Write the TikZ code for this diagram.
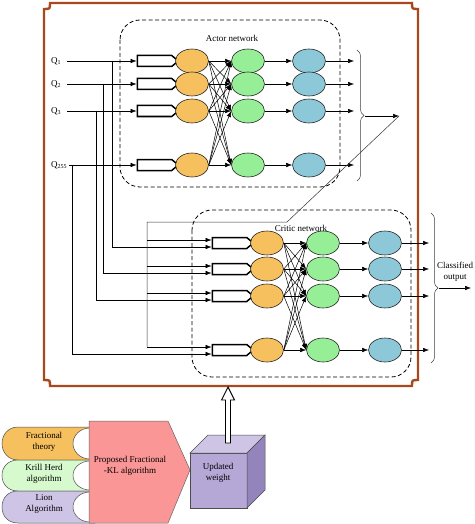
\documentclass[tikz,border=0pt]{standalone}
\usepackage{fontspec}
\setmainfont{Liberation Serif}
\usetikzlibrary{shapes.geometric,shapes.symbols,arrows.meta,decorations.pathreplacing}
\definecolor{brownf}{RGB}{168,72,28}
\definecolor{orangeN}{RGB}{247,192,95}
\definecolor{greenN}{RGB}{150,238,150}
\definecolor{blueN}{RGB}{140,200,215}
\definecolor{pinkN}{RGB}{250,150,150}
\definecolor{lavN}{RGB}{182,168,214}
\definecolor{lavL}{RGB}{206,196,230}
\definecolor{lavD}{RGB}{148,132,188}
\definecolor{greenL}{RGB}{214,250,205}
\begin{document}
\begin{tikzpicture}[x=1pt,y=-1pt,font=\fontsize{9}{11}\selectfont,
  neuron/.style={ellipse,draw=black!85,line width=0.6pt,minimum width=33pt,minimum height=24pt,inner sep=0pt},
  inbox/.style={signal,signal to=east,signal pointer angle=80,draw=black,line width=1.5pt,minimum width=41pt,minimum height=11pt,inner sep=0pt},
  arr/.style={-{Latex[length=6pt,width=4.5pt]},line width=0.5pt},
  dbox/.style={draw,dash pattern=on 4pt off 2.5pt,line width=0.8pt,rounded corners=20pt},
  lbl/.style={inner sep=1pt,align=center},
  itemshape/.style={draw=black!70,line width=0.5pt}]
\useasboundingbox (0,0) rectangle (474,524);
\fill[white] (0,0) rectangle (474,524);

% frame
\draw[brownf,line width=2.4pt] (50,3) -- (412,3) .. controls (412,9) .. (418,9) -- (418,380)
  .. controls (412,380) .. (412,386) -- (50,386) .. controls (50,380) .. (44,380) -- (44,9)
  .. controls (50,9) .. (50,3) -- cycle;

% dashed boxes
\draw[dbox] (120,20) rectangle (340,187);
\draw[dbox] (192,210) rectangle (411,377);
\node[lbl] (actlbl) at (232,38) {Actor network};
\node[lbl] (critlbl) at (301,228) {Critic network};

% actor nodes
\foreach \i/\y in {1/61,2/84,3/111,4/165}{
  \node[inbox] (ap\i) at (154.5,\y) {};
  \node[neuron,fill=orangeN] (ao\i) at (192,\y) {};
  \node[neuron,fill=greenN] (ag\i) at (248,\y) {};
  \node[neuron,fill=blueN] (ab\i) at (309,\y) {};
}
% critic nodes
\foreach \i/\y in {1/243,2/269,3/296,4/350}{
  \node[inbox] (cp\i) at (229.5,\y) {};
  \node[neuron,fill=orangeN] (co\i) at (267,\y) {};
  \node[neuron,fill=greenN] (cg\i) at (323,\y) {};
  \node[neuron,fill=blueN] (cb\i) at (385,\y) {};
}

% Q labels
\node[anchor=west,lbl] (q1) at (50,61) {Q\textsubscript{1}};
\node[anchor=west,lbl] (q2) at (50,84) {Q\textsubscript{2}};
\node[anchor=west,lbl] (q3) at (50,111) {Q\textsubscript{3}};
\node[anchor=west,lbl] (q4) at (50,165) {Q\textsubscript{255}};
\foreach \i in {1,2,3}{\draw[arr] ([xshift=5pt]q\i.east) -- (ap\i.west);}
\draw[arr] ([xshift=1pt]q4.east) -- (ap4.west);

% full connections
\foreach \i in {1,...,4}{\foreach \j in {1,...,4}{
  \draw[arr] (ao\i.east) -- (ag\j.west);
  \draw[arr] (co\i.east) -- (cg\j.west);
}}
\coordinate (aend) at (354,0);
\coordinate (cend) at (429,0);
\foreach \i in {1,...,4}{
  \draw[arr] (ag\i.east) -- (ab\i.west);
  \draw[arr] (ab\i.east) -- (ab\i.east -| aend);
  \draw[arr] (cg\i.east) -- (cb\i.west);
  \draw[arr] (cb\i.east) -- (cb\i.east -| cend);
}

% critic inputs
\foreach \i in {1,...,4}{
  \coordinate (cf\i) at ([yshift=3pt]cp\i.west);
  \coordinate (cq\i) at ([yshift=-4pt]cp\i.west);
}
\coordinate (b1) at (112,61);
\coordinate (b2) at (103,84);
\coordinate (b3) at (96,111);
\coordinate (b4) at (72,165);
\foreach \i in {1,...,4}{\draw[arr] (b\i) |- (cq\i);}

% actor brace and feedback
\draw[black!75,line width=0.5pt,decorate,decoration={brace,amplitude=7pt}] (357,50) -- (357,181);
\coordinate (abt) at (365,116);
\coordinate (fbt) at (399,116);
\coordinate (fbk) at (287,222);
\coordinate (fbc) at (147,222);
\draw[arr] (abt) -- (fbt);
\draw[line width=0.5pt,black!80] (fbt) -- (fbk) -- (fbc) -- (fbc |- cf4);
\foreach \i in {1,...,4}{\draw[arr] (fbc |- cf\i) -- (cf\i);}

% critic brace and output
\draw[black!75,line width=0.5pt,decorate,decoration={brace,amplitude=7pt}] (431,213) -- (431,363);
\coordinate (ctip) at (439,288);
\coordinate (cout) at (471,288);
\draw[arr] (ctip) -- (cout);
\node[lbl] (cls) at (455,272) {Classified\\output};

% bottom items
\filldraw[itemshape,fill=orangeN] (95,427) -- (18,427) .. controls (8,427) and (2,435) .. (2,443.5)
  .. controls (2,452) and (8,460) .. (18,460) -- (95,460) -- cycle;
\filldraw[itemshape,fill=greenL] (95,460) -- (18,460) .. controls (8,460) and (2,467) .. (2,475.5)
  .. controls (2,484) and (8,491) .. (18,491) -- (95,491) -- cycle;
\filldraw[itemshape,fill=lavL] (95,491) -- (18,491) .. controls (8,491) and (2,498) .. (2,507)
  .. controls (2,516) and (8,523) .. (18,523) -- (95,523) -- cycle;
\filldraw[itemshape,fill=white] (90,443.5) ellipse [x radius=17pt,y radius=15.5pt];
\filldraw[itemshape,fill=white] (90,475.5) ellipse [x radius=17pt,y radius=14.5pt];
\filldraw[itemshape,fill=white] (90,507) ellipse [x radius=17pt,y radius=15pt];
\node[lbl] (it1) at (44,441.5) {Fractional\\theory};
\node[lbl] (it2) at (44,473.5) {Krill Herd\\algorithm};
\node[lbl] (it3) at (44,504) {Lion\\Algorithm};

% pink pentagon
\filldraw[fill=pinkN,draw=black!60,line width=0.5pt] (89,421) -- (168,421) -- (190,470) -- (168,523) -- (89,523) -- cycle;
\node[lbl] (pk) at (130,466) {Proposed Fractional\\-KL algorithm};

% cube
\filldraw[fill=lavN,draw=black!70,line width=0.5pt] (190,453) rectangle (247,508);
\filldraw[fill=lavL,draw=black!70,line width=0.5pt] (190,453) -- (208,435) -- (265,435) -- (247,453) -- cycle;
\filldraw[fill=lavD,draw=black!70,line width=0.5pt] (247,453) -- (265,435) -- (265,490) -- (247,508) -- cycle;
\node[lbl] (upd) at (218,473) {Updated\\weight};

% hollow arrow
\filldraw[fill=white,draw=black,line width=0.9pt] (225.5,443) -- (225.5,400) -- (221.5,400) -- (228,387)
  -- (234.5,400) -- (230.5,400) -- (230.5,443) -- cycle;
\end{tikzpicture}
\end{document}
